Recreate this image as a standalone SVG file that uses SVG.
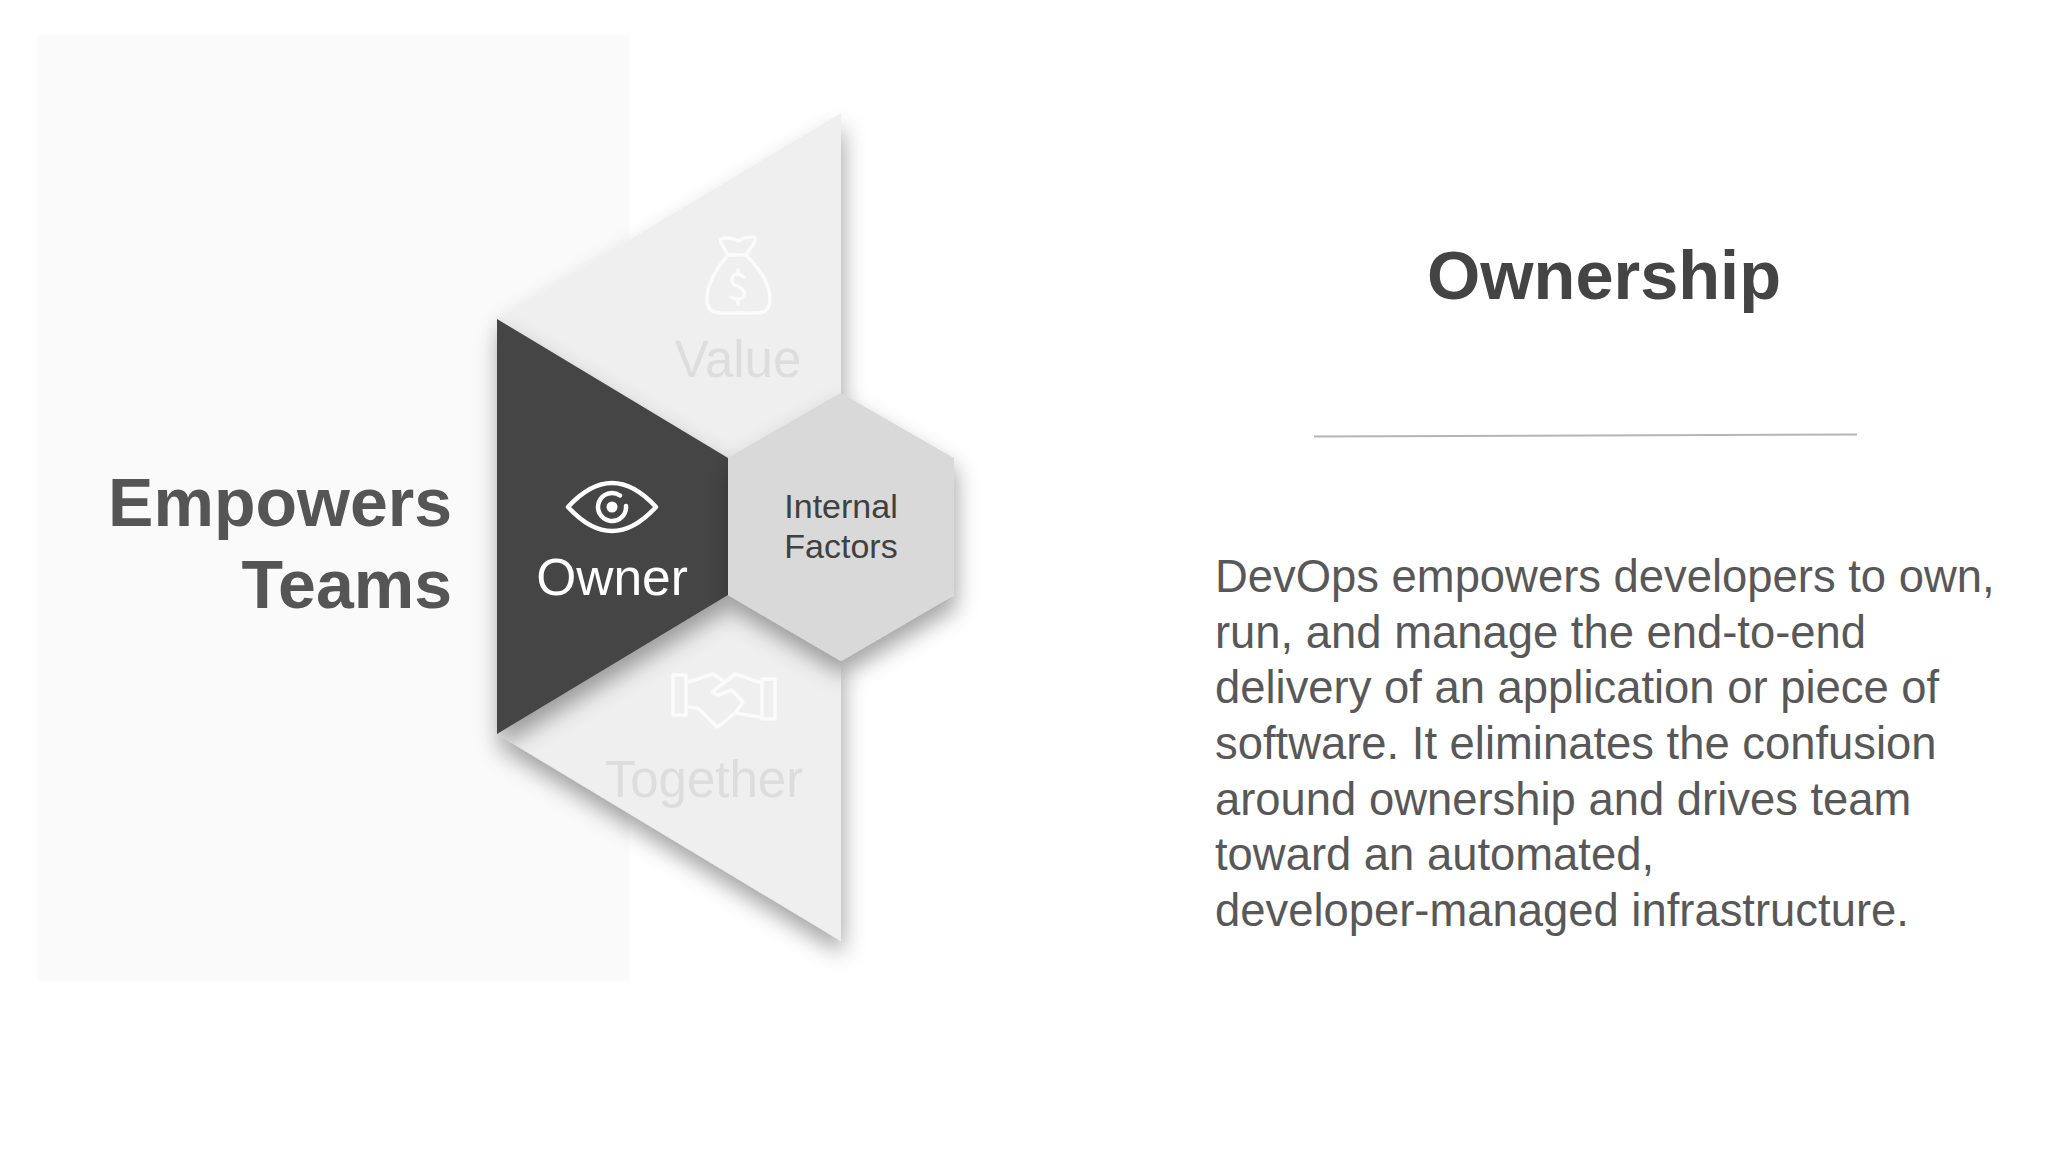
<svg xmlns="http://www.w3.org/2000/svg" width="2048" height="1152" viewBox="0 0 2048 1152">
  <defs>
    <filter id="sh" x="-30%" y="-30%" width="160%" height="160%">
      <feDropShadow dx="2" dy="13" stdDeviation="11" flood-color="#000" flood-opacity="0.36"/>
    </filter>
    <filter id="soft" x="-5%" y="-5%" width="110%" height="110%"><feGaussianBlur stdDeviation="1.5"/></filter>
    <style>
      text { font-family: "Liberation Sans", Arial, sans-serif; }
      .head { font-weight: 700; font-size: 68px; fill: #555555; text-anchor: end; }
      .title { font-weight: 700; font-size: 68.5px; fill: #444444; text-anchor: middle; }
      .body { font-size: 45.4px; fill: #585858; }
      .faded { font-size: 51px; fill: #dddddd; text-anchor: middle; }
      .ico { fill: none; stroke-linecap: round; stroke-linejoin: round; }
    </style>
  </defs>
  <rect width="2048" height="1152" fill="#ffffff"/>
  <rect id="panel" x="37" y="35" width="592" height="946" fill="#fafafa" filter="url(#soft)"/>
  <g id="heading">
    <text class="head" x="452" y="526">Empowers</text>
    <text class="head" x="452" y="608">Teams</text>
  </g>
  <g id="value">
    <polygon points="497,319 841,113 841,393 728,458" fill="#efefef" filter="url(#sh)"/>
    <g class="ico" stroke="#fbfbfb" stroke-width="3.5">
      <path d="M728,255 L721,243 Q719,238 725,238 Q733,238 738,241 Q744,237 752,237 Q757,237 754,243 L746,255 Z"/>
      <path d="M728,255 Q707,279 707,299 Q707,313 720,313 L757,313 Q770,313 770,299 Q770,279 746,255"/>
      <path d="M744,277 Q739,273 734,275 Q729,281 735,285 L741,288 Q747,293 742,298 Q736,301 731,297 M738,270 V273 M738,301 V304"/>
    </g>
    <text class="faded" x="738" y="377">Value</text>
  </g>
  <g id="together">
    <polygon points="497,734 728,595 841,661 841,941" fill="#efefef" filter="url(#sh)"/>
    <g class="ico" stroke="#fbfbfb" stroke-width="3.5">
      <path d="M673,675 H686 V715 H673 Z M762,679 H775 V719 H762 Z"/>
      <path d="M688,682 L713,674 L722,680"/>
      <path d="M762,683 L735,674 L712,692 L718,695 L732,690 L743,702 L735,713 L760,717"/>
      <path d="M688,707 L698,708 L717,727 L723,723 L735,713"/>
    </g>
    <text class="faded" x="704" y="797">Together</text>
  </g>
  <g id="owner">
    <polygon points="497,319 728,458 728,595 497,734" fill="#454545" filter="url(#sh)"/>
    <g class="ico" stroke="#ffffff" stroke-width="4.5">
      <path d="M568,507 Q590,483 612,483 Q634,483 656,507 Q634,531 612,531 Q590,531 568,507 Z"/>
      <path d="M626,506 A14,14 0 1 1 620,495.5"/>
    </g>
    <circle cx="612" cy="507" r="5.5" fill="#ffffff"/>
    <text x="612" y="595" font-size="51.5" fill="#ffffff" text-anchor="middle">Owner</text>
  </g>
  <g id="factors">
    <polygon points="841,393 954,458 954,595 841,661 728,595 728,458" fill="#d9d9d9" filter="url(#sh)"/>
    <text x="841" y="518" font-size="34" fill="#404040" text-anchor="middle">Internal</text>
    <text x="841" y="558" font-size="34" fill="#404040" text-anchor="middle">Factors</text>
  </g>
  <g id="ownership">
    <text class="title" x="1604" y="298.5">Ownership</text>
    <line x1="1314" y1="436.5" x2="1857" y2="434.5" stroke="#b5b5b5" stroke-width="2"/>
    <text class="body" x="1215" y="592">DevOps empowers developers to own,</text>
    <text class="body" x="1215" y="648">run, and manage the end-to-end</text>
    <text class="body" x="1215" y="703">delivery of an application or piece of</text>
    <text class="body" x="1215" y="759">software. It eliminates the confusion</text>
    <text class="body" x="1215" y="815">around ownership and drives team</text>
    <text class="body" x="1215" y="870">toward an automated,</text>
    <text class="body" x="1215" y="926">developer-managed infrastructure.</text>
  </g>
</svg>
